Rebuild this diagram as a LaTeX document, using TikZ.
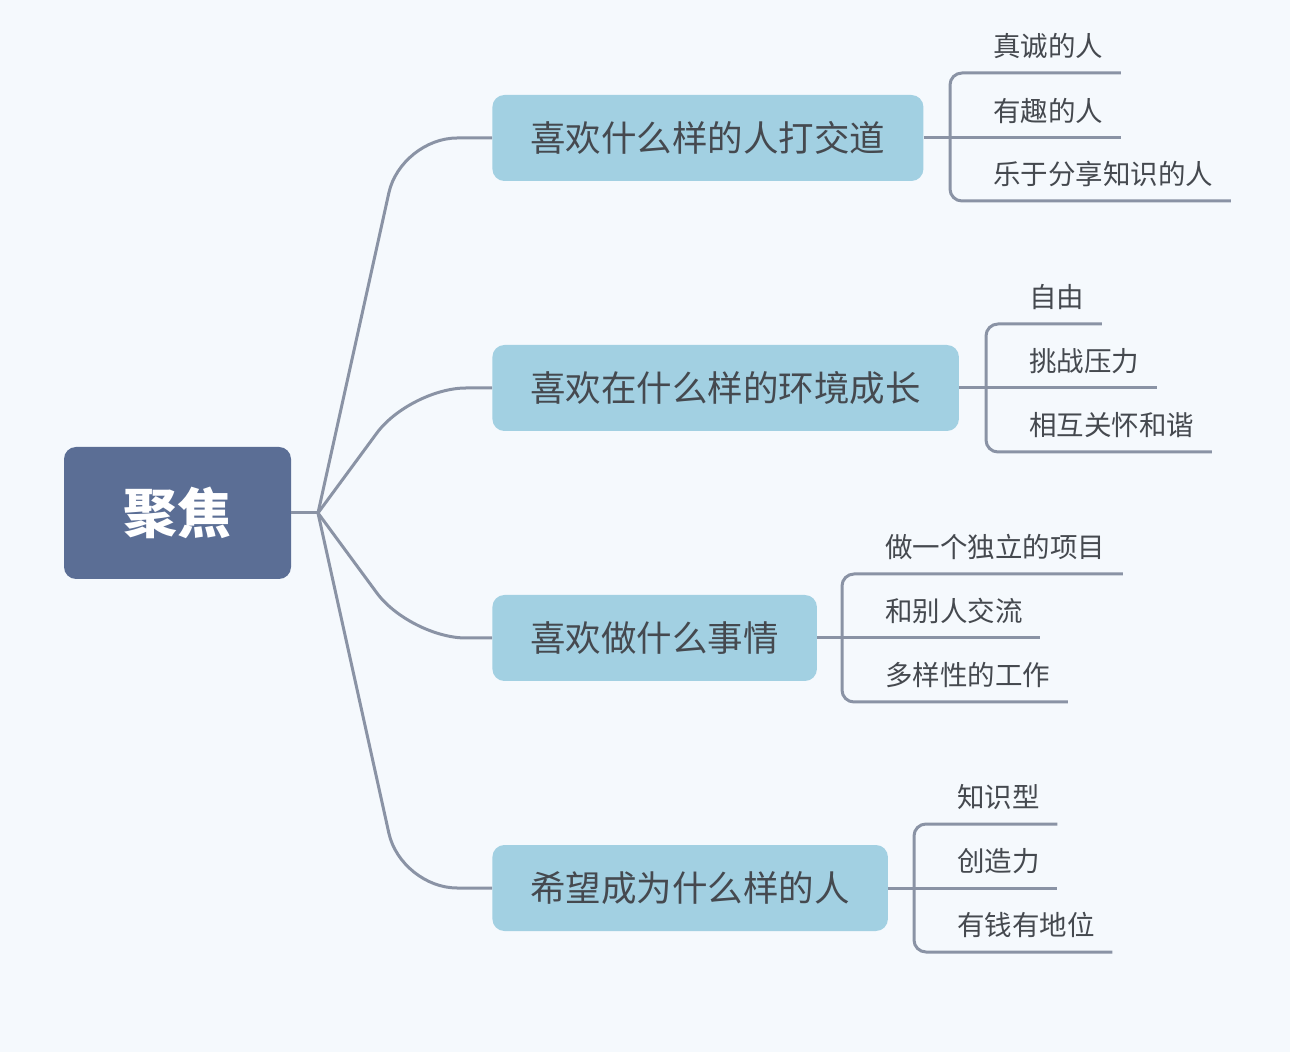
\documentclass[tikz,border=0pt]{standalone}
\usepackage{fontspec}
\newfontfamily\cjk{Noto Sans CJK SC}
\usetikzlibrary{positioning, calc}
\definecolor{bgcol}{HTML}{F5F9FD}
\definecolor{rootcol}{HTML}{5B6E95}
\definecolor{topiccol}{HTML}{A2D0E2}
\definecolor{linecol}{HTML}{8A93A5}
\definecolor{textcol}{HTML}{45494F}
\tikzset{
  root/.style={fill=rootcol, rounded corners=6pt, minimum width=113.5pt, minimum height=66pt, text height=22.4pt, text depth=1.4pt, font=\cjk\bfseries\fontsize{27}{28}\selectfont, text=white},
  topic/.style={fill=topiccol, rounded corners=6pt, anchor=west, minimum height=43pt, inner xsep=19pt, text height=14.2pt, text depth=0.9pt, font=\cjk\fontsize{17.75}{18}\selectfont, text=textcol},
  leaf/.style={anchor=south west, inner xsep=8.5pt, inner ysep=8pt, text depth=0pt, font=\cjk\fontsize{13.75}{14}\selectfont, text=textcol},
  conn/.style={draw=linecol, line width=1.5pt},
  branch/.style={conn, rounded corners=28pt},
  brace/.style={conn, rounded corners=6pt}
}
\begin{document}
\begin{tikzpicture}[x=0.5pt, y=-0.5pt]
\fill[bgcol] (0,0) rectangle (1290,1052);
\useasboundingbox (0,0) rectangle (1290,1052);
\node[root] (root) at (177.5,513) {聚焦};
\coordinate (j) at (318,513);
\node[topic] (t1) at (492,138) {喜欢什么样的人打交道};
\node[topic] (t2) at (492,388) {喜欢在什么样的环境成长};
\node[topic] (t3) at (492,638) {喜欢做什么事情};
\node[topic] (t4) at (492,888) {希望成为什么样的人};
\coordinate (c1) at (401,138);
\coordinate (c2) at (410,388);
\coordinate (c3) at (410,638);
\coordinate (c4) at (401,888);
\draw[conn] (root.east) -- (j);
\draw[branch] (j) -- (c1) -- (t1.west);
\draw[branch] (j) -- (c2) -- (t2.west);
\draw[branch] (j) -- (c3) -- (t3.west);
\draw[branch] (j) -- (c4) -- (t4.west);
% leaves
\node[leaf] (l11) at (976,73) {真诚的人};
\node[leaf] (l12) at (976,138) {有趣的人};
\node[leaf] (l13) at (976,201) {乐于分享知识的人};
\coordinate (k1) at (950,138);
\node[leaf] (l21) at (1012,324) {自由};
\node[leaf] (l22) at (1012,388) {挑战压力};
\node[leaf] (l23) at (1012,452) {相互关怀和谐};
\coordinate (k2) at (986,388);
\node[leaf] (l31) at (868,574) {做一个独立的项目};
\node[leaf] (l32) at (868,638) {和别人交流};
\node[leaf] (l33) at (868,702) {多样性的工作};
\coordinate (k3) at (842,638);
\node[leaf] (l41) at (940,824) {知识型};
\node[leaf] (l42) at (940,888) {创造力};
\node[leaf] (l43) at (940,952) {有钱有地位};
\coordinate (k4) at (914,888);
\foreach \i in {1,2,3,4} {
  \draw[brace] (l\i1.south east) -| (k\i) |- (l\i3.south east);
  \draw[conn] (t\i.east) -- (l\i2.south east);
}
\end{tikzpicture}
\end{document}
